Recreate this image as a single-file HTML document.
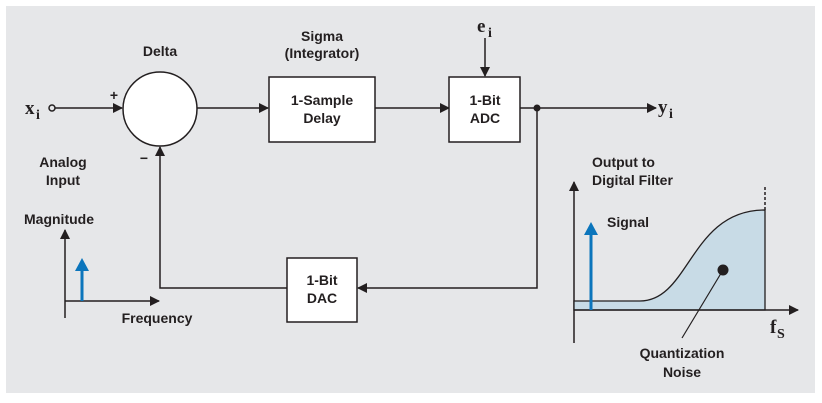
<!DOCTYPE html>
<html><head><meta charset="utf-8"><style>
body{margin:0;background:#fff}
svg{display:block}
text{font-family:"Liberation Sans",sans-serif;font-weight:bold;font-size:14px;fill:#231f20}
.s{font-family:"Liberation Serif",serif;font-size:19px}
.ss{font-family:"Liberation Serif",serif;font-size:14px}
</style></head><body>
<svg width="822" height="403" viewBox="0 0 822 403">
<defs><marker id="a" markerWidth="10" markerHeight="10" refX="9" refY="5" orient="auto" markerUnits="userSpaceOnUse"><path d="M0,0 L10,5 L0,10 z" fill="#231f20"/></marker></defs>
<rect x="6" y="6" width="809" height="387" fill="#e6e7e9"/>
<g stroke="#231f20" stroke-width="1.5" fill="none">
<circle cx="52" cy="108" r="3"/>
<line x1="55" y1="108" x2="122" y2="108" marker-end="url(#a)"/>
<circle cx="160" cy="109" r="37" fill="#fff"/>
<line x1="197" y1="108" x2="268" y2="108" marker-end="url(#a)"/>
<rect x="269" y="77" width="106" height="65" fill="#fff"/>
<line x1="375" y1="108" x2="449" y2="108" marker-end="url(#a)"/>
<rect x="449" y="77" width="71" height="65" fill="#fff"/>
<line x1="485" y1="38" x2="485" y2="76" marker-end="url(#a)"/>
<line x1="520" y1="108" x2="656" y2="108" marker-end="url(#a)"/>
<polyline points="537,108 537,288 358,288" marker-end="url(#a)"/>
<rect x="287" y="258" width="70" height="64" fill="#fff"/>
<polyline points="287,288 160,288 160,147" marker-end="url(#a)"/>
<line x1="65" y1="318" x2="65" y2="230" marker-end="url(#a)"/>
<line x1="65" y1="301" x2="159" y2="301" marker-end="url(#a)"/>
<line x1="574" y1="343" x2="574" y2="182" marker-end="url(#a)"/>
<path d="M574,301 L640,301 C690,301 690,210 765,210 L765,310 L574,310 Z" fill="#c8dbe6" stroke-width="1.3"/>
<line x1="574" y1="310" x2="798" y2="310" marker-end="url(#a)"/>
<line x1="765" y1="187" x2="765" y2="210" stroke-dasharray="3,2"/>
<line x1="723" y1="270" x2="682" y2="338" stroke-width="1.2"/>
</g>
<circle cx="537" cy="108" r="3.5" fill="#231f20"/>
<circle cx="723" cy="270" r="5.5" fill="#231f20"/>
<g stroke="#0b75bc" stroke-width="3"><line x1="82" y1="301" x2="82" y2="270"/><line x1="591" y1="310" x2="591" y2="234"/></g>
<path d="M75,271 L82,258 L89,271 Z M584,235 L591,222 L598,235 Z" fill="#0b75bc"/>
<text x="160" y="56" text-anchor="middle">Delta</text>
<text x="322" y="41" text-anchor="middle">Sigma</text>
<text x="322" y="58" text-anchor="middle">(Integrator)</text>
<text x="322" y="105" text-anchor="middle">1-Sample</text>
<text x="322" y="123" text-anchor="middle">Delay</text>
<text x="485" y="105" text-anchor="middle">1-Bit</text>
<text x="485" y="123" text-anchor="middle">ADC</text>
<text x="322" y="285" text-anchor="middle">1-Bit</text>
<text x="322" y="303" text-anchor="middle">DAC</text>
<text x="114" y="100" text-anchor="middle">+</text>
<text x="144" y="163" text-anchor="middle">−</text>
<text x="63" y="167" text-anchor="middle">Analog</text>
<text x="63" y="185" text-anchor="middle">Input</text>
<text x="24" y="224">Magnitude</text>
<text x="157" y="323" text-anchor="middle">Frequency</text>
<text x="592" y="167">Output to</text>
<text x="592" y="185">Digital Filter</text>
<text x="607" y="227">Signal</text>
<text x="682" y="358" text-anchor="middle">Quantization</text>
<text x="682" y="377" text-anchor="middle">Noise</text>
<text x="25" y="114" class="s">x</text><text x="36" y="119" class="ss">i</text>
<text x="477" y="32" class="s">e</text><text x="488" y="37" class="ss">i</text>
<text x="658" y="113" class="s">y</text><text x="669" y="118" class="ss">i</text>
<text x="770" y="333" class="s">f</text><text x="777" y="338" class="ss">S</text>
</svg>
</body></html>
